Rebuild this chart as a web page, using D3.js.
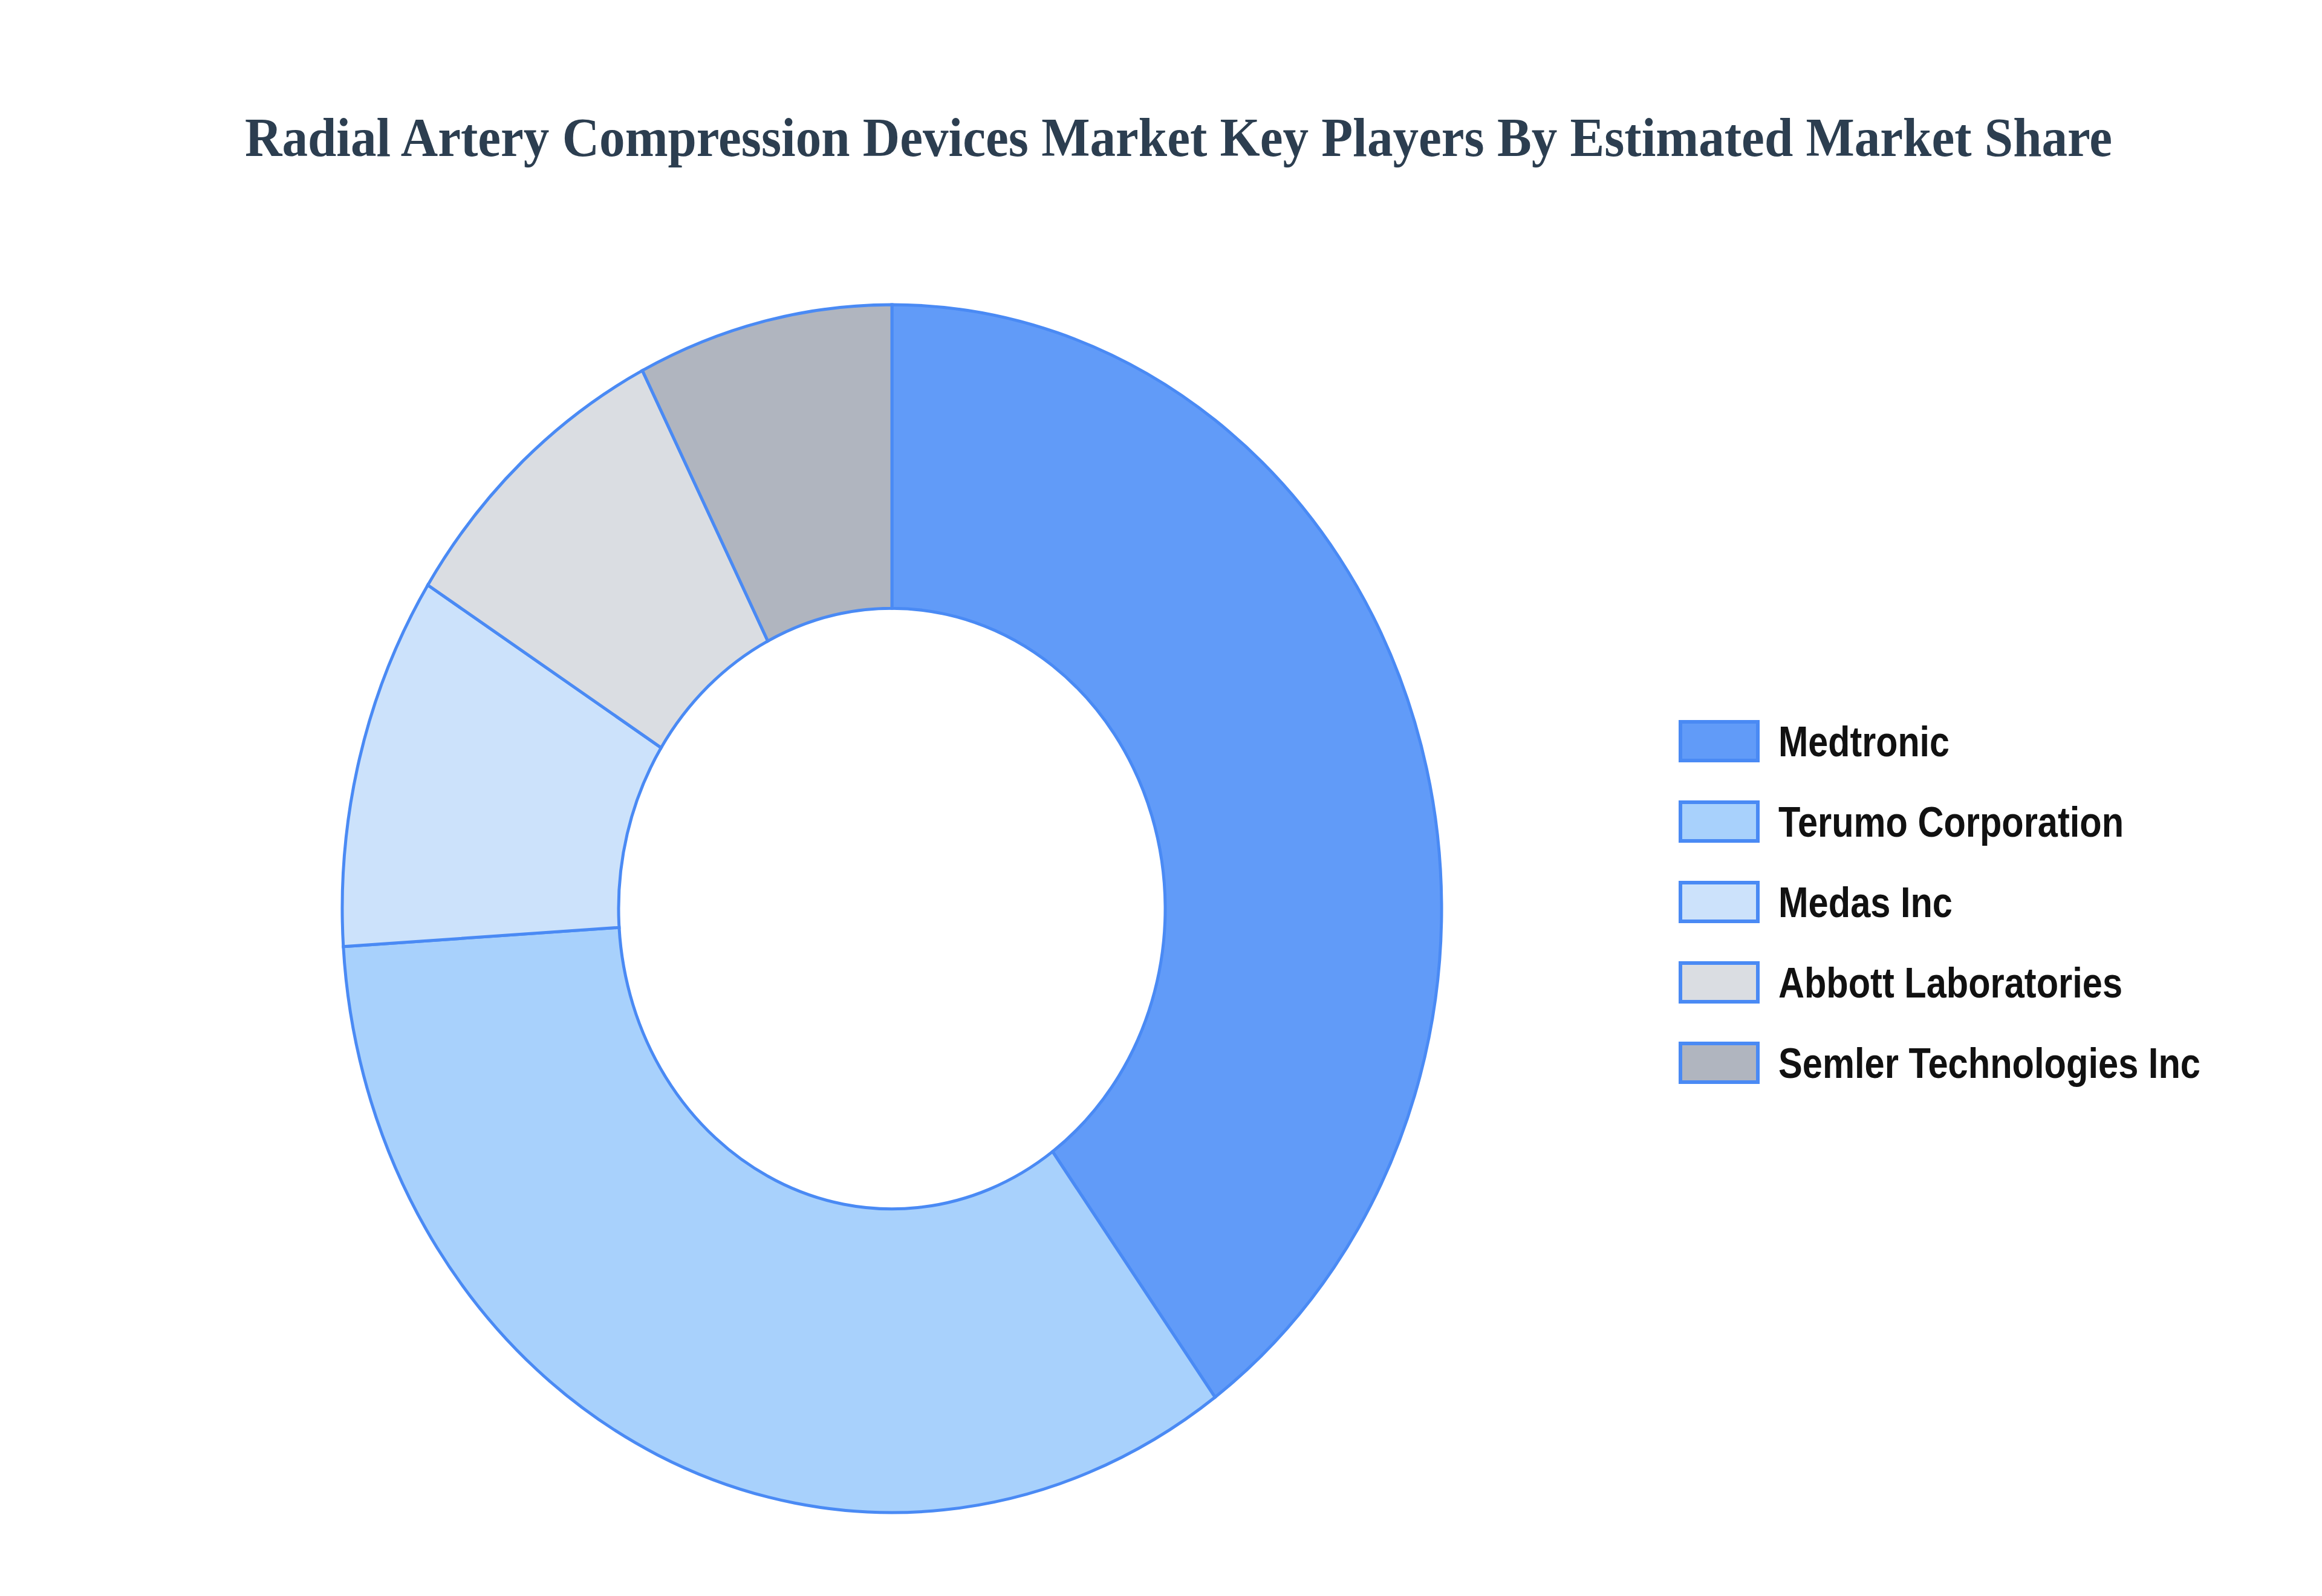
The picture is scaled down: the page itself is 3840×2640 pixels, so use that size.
<!DOCTYPE html>
<html><head><meta charset="utf-8">
<script src="https://cdn.jsdelivr.net/npm/d3@7"></script>
<style>body{margin:0;background:#fff}</style></head>
<body><svg id="c" width="3840" height="2640"></svg>
<script>
const categories = ["Medtronic","Terumo Corporation","Medas Inc","Abbott Laboratories","Semler Technologies Inc"];
const shares = [40, 34, 10, 8.5, 7.5];
const colors = ["#619bf8","#a8d1fc","#cce2fb","#dadde2","#b0b5bf"];
const labelWidths = [283, 571, 288, 569, 698];

const svg = d3.select("#c");
svg.append("rect").attr("width",3840).attr("height",2640).attr("fill","#fff");
svg.append("text").attr("x",1949).attr("y",258).attr("text-anchor","middle")
  .attr("font-family","Liberation Serif, serif").attr("font-weight","bold")
  .attr("font-size",90).attr("fill","#2c3e50")
  .attr("textLength",3088).attr("lengthAdjust","spacingAndGlyphs")
  .text("Radial Artery Compression Devices Market Key Players By Estimated Market Share");

const rx = 909, ry = 999;
const pie = d3.pie().sort(null).value(d=>d);
const arc = d3.arc().innerRadius(452).outerRadius(rx);
const g = svg.append("g").attr("transform",`translate(1475,1503) scale(1,${ry/rx})`);
g.selectAll("path").data(pie(shares)).join("path")
  .attr("d",arc).attr("fill",(d,i)=>colors[i])
  .attr("stroke","#4a8af4").attr("stroke-width",5)
  .attr("vector-effect","non-scaling-stroke");

const y = d3.scaleBand().domain(categories).range([1160,1160+133*5]);
const lg = svg.append("g");
const rows = lg.selectAll("g").data(categories).join("g")
  .attr("transform",d=>`translate(0,${y(d)})`);
rows.append("rect").attr("x",2779).attr("y",34).attr("width",128).attr("height",64)
  .attr("fill",(d,i)=>colors[i]).attr("stroke","#4a8af4").attr("stroke-width",6);
rows.append("text").attr("x",2941).attr("y",91)
  .attr("font-family","Liberation Sans, Arial, sans-serif").attr("font-weight","bold")
  .attr("font-size",70).attr("fill","#111")
  .attr("textLength",(d,i)=>labelWidths[i]).attr("lengthAdjust","spacingAndGlyphs")
  .text(d=>d);
</script></body></html>
